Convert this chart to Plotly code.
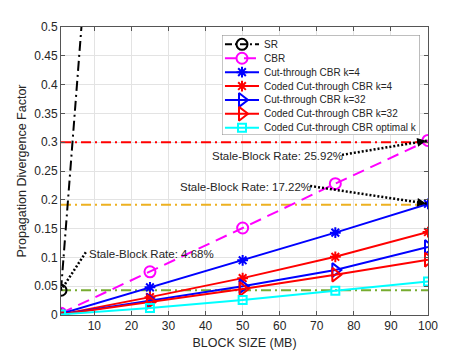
import plotly.graph_objects as go

# ---------------- data ----------------
block_sizes = [1, 25, 50, 75, 100]
sr = [0.043, 2.03, 4.10, 6.17, 8.25]
cbr = [0.003, 0.075, 0.151, 0.228, 0.303]
cut_k4 = [0.002, 0.048, 0.095, 0.143, 0.193]
coded_k4 = [0.001, 0.031, 0.064, 0.101, 0.144]
cut_k32 = [0.001, 0.025, 0.050, 0.078, 0.118]
coded_k32 = [0.001, 0.023, 0.045, 0.070, 0.096]
coded_opt = [0.001, 0.012, 0.026, 0.042, 0.058]

series_names = [
    "SR",
    "CBR",
    "Cut-through CBR k=4",
    "Coded Cut-through CBR k=4",
    "Cut-through CBR k=32",
    "Coded Cut-through CBR k=32",
    "Coded Cut-through CBR optimal k",
]
ref_levels = [0.300, 0.1915, 0.043]

x_ticks = [10, 20, 30, 40, 50, 60, 70, 80, 90, 100]
y_ticks = [0, 0.05, 0.1, 0.15, 0.2, 0.25, 0.3, 0.35, 0.4, 0.45, 0.5]
y_tick_text = ["0", "0.05", "0.1", "0.15", "0.2", "0.25", "0.3", "0.35", "0.4", "0.45", "0.5"]

stale_labels = ["Stale-Block Rate: 25.92%", "Stale-Block Rate: 17.22%", "Stale-Block Rate: 4.68%"]

# ---------------- styles ----------------
FONT = "Liberation Sans, Arial, sans-serif"
TXT = "#262626"
DASHDOT = "10px,4px,2px,4px"
DASH = "12px,7px"

series_values = [sr, cbr, cut_k4, coded_k4, cut_k32, coded_k32, coded_opt]
styles = [
    dict(color="#000000", dash=DASHDOT, symbol="circle-open", size=11),
    dict(color="#FF00FF", dash=DASH, symbol="circle-open", size=11),
    dict(color="#0000FF", dash="solid", symbol="asterisk-open", size=9),
    dict(color="#FF0000", dash="solid", symbol="asterisk-open", size=9),
    dict(color="#0000FF", dash="solid", symbol="triangle-right-open", size=12),
    dict(color="#FF0000", dash="solid", symbol="triangle-right-open", size=12),
    dict(color="#00FFFF", dash="solid", symbol="square-open", size=8),
]
ref_colors = ["#FF0000", "#EDB120", "#77AC30"]

fig = go.Figure()

# reference horizontal lines
for lvl, col in zip(ref_levels, ref_colors):
    fig.add_trace(go.Scatter(
        x=[block_sizes[0], block_sizes[-1]], y=[lvl, lvl], mode="lines",
        line=dict(color=col, width=2, dash=DASHDOT), showlegend=False, hoverinfo="skip"))

for name, vals, st in zip(series_names, series_values, styles):
    fig.add_trace(go.Scatter(
        x=block_sizes, y=vals, mode="lines+markers", name=name, showlegend=False,
        line=dict(color=st["color"], width=2, dash=st["dash"]),
        marker=dict(symbol=st["symbol"], size=st["size"], color=st["color"],
                    line=dict(color=st["color"], width=2)),
    ))

# ---------------- annotations (dotted arrows) ----------------
targets = [(block_sizes[-1], cbr[-1]), (block_sizes[-1], cut_k4[-1]), (block_sizes[0], sr[0])]
text_pos = [(59.4, 0.2766), (50.8, 0.2227), (25.3, 0.106)]
tails = [(76.8, 0.278), (68.2, 0.224), (7.7, 0.109)]
head_offsets = [(-8, 1.4), (-8, -1.1), (4, -7)]
standoffs = [2, 2, 5]

for lab, (tx, ty), (ax0, ay0), (hx, hy), (ox, oy), so in zip(
        stale_labels, text_pos, tails, targets, head_offsets, standoffs):
    fig.add_annotation(x=tx, y=ty, xref="x", yref="y", text=lab, showarrow=False,
                       font=dict(family=FONT, size=11.5, color=TXT))
    fig.add_shape(type="line", xref="x", yref="y", x0=ax0, y0=ay0, x1=hx, y1=hy,
                  line=dict(color="#000000", width=2.5, dash="2px,2px"), layer="above")
    fig.add_annotation(x=hx, y=hy, xref="x", yref="y", text="", showarrow=True,
                       ax=ox, ay=oy, arrowhead=2, arrowsize=1.1, arrowwidth=1.6,
                       arrowcolor="#000000", standoff=so)

# ---------------- manual legend (overlay axes) ----------------
fig.add_trace(go.Scatter(
    x=[0, 1, 1, 0, 0], y=[-0.669, -0.669, 6.525, 6.525, -0.669], xaxis="x2", yaxis="y2",
    mode="lines", fill="toself", fillcolor="#FFFFFF", line=dict(color="#8c8c8c", width=1),
    showlegend=False, hoverinfo="skip"))
for i, (name, st) in enumerate(zip(series_names, styles)):
    fig.add_trace(go.Scatter(
        x=[0.015, 0.187], y=[i, i], xaxis="x2", yaxis="y2", mode="lines",
        line=dict(color=st["color"], width=2, dash=st["dash"] if st["dash"] != DASHDOT else "7px,3px,2px,3px"),
        showlegend=False, hoverinfo="skip"))
    fig.add_trace(go.Scatter(
        x=[0.101], y=[i], xaxis="x2", yaxis="y2", mode="markers",
        marker=dict(symbol=st["symbol"], size=st["size"], color=st["color"],
                    line=dict(color=st["color"], width=2)),
        showlegend=False, hoverinfo="skip"))
    fig.add_annotation(x=0.202, y=i, xref="x2", yref="y2", text=name, showarrow=False,
                       xanchor="left", font=dict(family=FONT, size=10, color=TXT))

axis_common = dict(showline=True, linecolor="#555555", linewidth=1, mirror="ticks",
                   ticks="inside", ticklen=4, tickcolor="#555555", showgrid=True,
                   gridcolor="#e3e3e3", gridwidth=1, zeroline=False, automargin=False,
                   tickfont=dict(family=FONT, size=12, color=TXT))

# the page body adds an 8px offset (left/top), so the figure is 8px smaller than the window
fig.update_layout(
    width=466, height=347,
    margin=dict(l=53, r=46, t=19, b=40),
    paper_bgcolor="#FFFFFF", plot_bgcolor="#FFFFFF",
    font=dict(family=FONT, size=12, color=TXT),
    showlegend=False,
    xaxis=dict(range=[1, 100], tickvals=x_ticks, ticktext=[str(v) for v in x_ticks],
               title=dict(text="BLOCK SIZE (MB)", font=dict(family=FONT, size=12.5, color=TXT), standoff=5),
               **axis_common),
    yaxis=dict(range=[0, 0.5], tickvals=y_ticks, ticktext=y_tick_text,
               title=dict(text="Propagation Divergence Factor", font=dict(family=FONT, size=12.5, color=TXT), standoff=4),
               **axis_common),
    xaxis2=dict(domain=[0.4387, 0.978], range=[0, 1], anchor="y2", visible=False, fixedrange=True),
    yaxis2=dict(domain=[0.625, 0.972], range=[6.525, -0.669], anchor="x2", visible=False, fixedrange=True),
)

fig.write_html("out.html")
